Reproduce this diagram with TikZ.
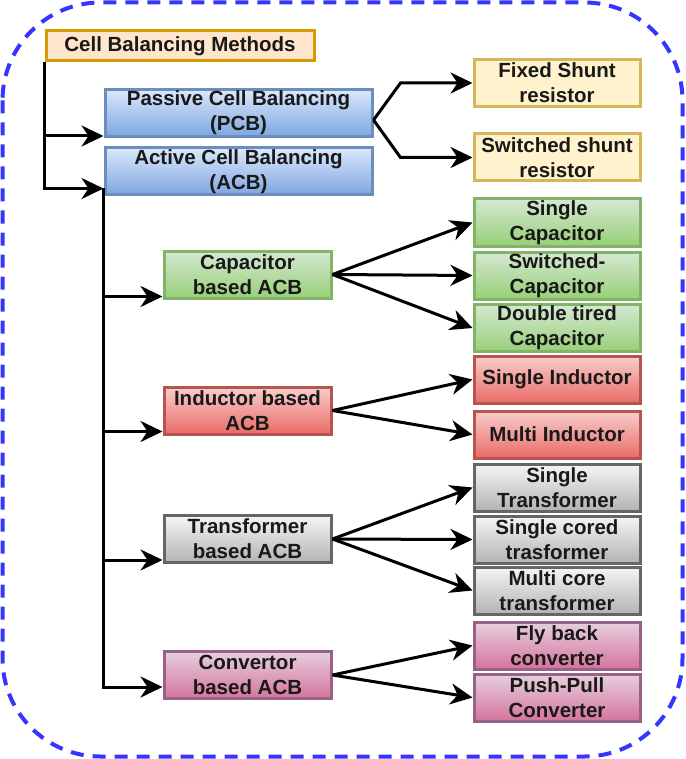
\documentclass[tikz,border=0pt]{standalone}
\usepackage{fontspec}
\setmainfont{Liberation Sans}
\usepackage{xcolor}
\usetikzlibrary{arrows.meta,positioning,calc}

\definecolor{frameblue}{HTML}{3535FF}

\begin{document}
\begin{tikzpicture}[x=1pt,y=-1pt,
    box/.style={rectangle,draw,line width=3pt,inner sep=0pt,align=center,
        font=\fontsize{20.5}{25}\selectfont\bfseries,text=black!90},
    wide/.style={box,minimum width=267pt,minimum height=47pt},
    mid/.style={box,minimum width=167pt,minimum height=47pt},
    leaf/.style={box,minimum width=166pt,minimum height=47pt},
    orangebox/.style={fill=orange!20!white,draw={rgb,255:red,215;green,155;blue,0}},
    yellowbox/.style={fill={rgb,255:red,255;green,242;blue,204},draw={rgb,255:red,214;green,182;blue,86}},
    bluebox/.style={top color={rgb,255:red,218;green,232;blue,252},bottom color={rgb,255:red,126;green,166;blue,224},draw={rgb,255:red,108;green,142;blue,191}},
    greenbox/.style={top color={rgb,255:red,213;green,232;blue,212},bottom color={rgb,255:red,151;green,208;blue,119},draw={rgb,255:red,130;green,179;blue,102}},
    redbox/.style={top color={rgb,255:red,248;green,206;blue,204},bottom color={rgb,255:red,234;green,107;blue,102},draw={rgb,255:red,184;green,84;blue,80}},
    graybox/.style={top color={rgb,255:red,245;green,245;blue,245},bottom color={rgb,255:red,179;green,179;blue,179},draw={rgb,255:red,102;green,102;blue,102}},
    pinkbox/.style={top color={rgb,255:red,230;green,208;blue,222},bottom color={rgb,255:red,213;green,115;blue,157},draw={rgb,255:red,153;green,97;blue,133}},
    arr/.style={-{Stealth[length=22pt,width=21pt,inset=7pt]},line width=3pt,black}]

    \useasboundingbox (0,0) rectangle (685,759);
    \draw[frameblue,line width=4pt,dash pattern=on 13pt off 9pt,rounded corners=98pt] (2.5,2.5) rectangle (682.5,756.5);

    \node[box,orangebox,minimum width=268pt,minimum height=30pt] (cbm) at (180,46) {Cell Balancing Methods};
    \node[wide,bluebox] (pcb) at (238.5,113) {Passive Cell Balancing\\(PCB)};
    \node[wide,bluebox] (acb) at (238.5,171.5) {Active Cell Balancing\\(ACB)};

    \node[leaf,yellowbox] (fsr) at (557,83) {Fixed Shunt\\resistor};
    \node[leaf,yellowbox] (ssr) at (557,157.5) {Switched shunt\\resistor};

    \node[mid,greenbox] (cap) at (247.5,274.5) {Capacitor\\based ACB};
    \node[leaf,greenbox] (sc) at (557,222.5) {Single\\Capacitor};
    \node[leaf,greenbox] (swc) at (557,275.5) {Switched-\\Capacitor};
    \node[leaf,greenbox] (dtc) at (557,328) {Double tired\\Capacitor};

    \node[mid,redbox] (ind) at (247.5,410.5) {Inductor based\\ACB};
    \node[leaf,redbox] (si) at (557,379.5) {Single Inductor};
    \node[leaf,redbox] (mi) at (557,434.5) {Multi Inductor};

    \node[mid,graybox] (tra) at (247.5,539) {Transformer\\based ACB};
    \node[leaf,graybox] (st) at (557,487.5) {Single\\Transformer};
    \node[leaf,graybox] (sct) at (557,539.5) {Single cored\\trasformer};
    \node[leaf,graybox] (mct) at (557,590.5) {Multi core\\transformer};

    \node[mid,pinkbox] (con) at (247.5,675) {Convertor\\based ACB};
    \node[leaf,pinkbox] (fbc) at (557,645.5) {Fly back\\converter};
    \node[leaf,pinkbox] (ppc) at (557,697.5) {Push-Pull\\Converter};

    \draw[arr] (cbm.south west) |- ([yshift=2pt]pcb.south west);
    \draw[arr] (cbm.south west) |- ([yshift=8pt]acb.south west);

    \draw[arr] ([yshift=8pt]acb.south west) |- ([yshift=3pt]cap.south west);
    \draw[arr] ([yshift=8pt]acb.south west) |- ([yshift=4pt]ind.south west);
    \draw[arr] ([yshift=8pt]acb.south west) |- ([yshift=4pt]tra.south west);
    \draw[arr] ([yshift=8pt]acb.south west) |- ([yshift=13pt]con.south west);

    \draw[arr] ([yshift=-7pt]pcb.east) -- ([xshift=-72pt]fsr.west) -- (fsr.west);
    \draw[arr] ([yshift=-7pt]pcb.east) -- ([xshift=-72pt]ssr.west) -- (ssr.west);

    \draw[arr] (cap.east) -- (sc.west);
    \draw[arr] (cap.east) -- (swc.west);
    \draw[arr] (cap.east) -- (dtc.west);

    \draw[arr] (ind.east) -- (si.west);
    \draw[arr] (ind.east) -- (mi.west);

    \draw[arr] (tra.east) -- (st.west);
    \draw[arr] (tra.east) -- (sct.west);
    \draw[arr] (tra.east) -- (mct.west);

    \draw[arr] (con.east) -- (fbc.west);
    \draw[arr] (con.east) -- (ppc.west);
\end{tikzpicture}
\end{document}
